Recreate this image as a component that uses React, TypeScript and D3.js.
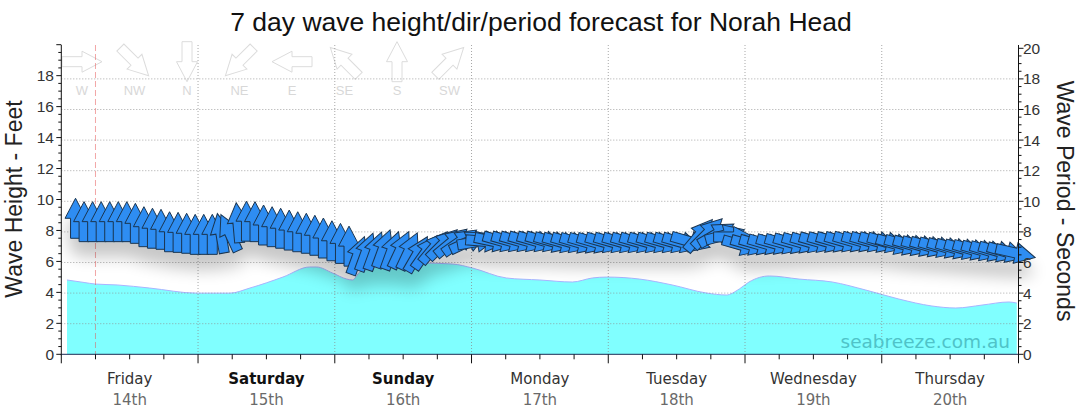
import React from "react";
import * as d3 from "d3";

const days = ["Friday", "Saturday", "Sunday", "Monday", "Tuesday", "Wednesday", "Thursday"];
const dates = ["14th", "15th", "16th", "17th", "18th", "19th", "20th"];
const boldDays = ["Saturday", "Sunday"];

const compassLabels = ["W", "NW", "N", "NE", "E", "SE", "S", "SW"];
const compassFrom = [270, 315, 0, 45, 90, 135, 180, 225];

// wave height (feet) read at given forecast hours
const heightHours = [1.0, 4.0, 5.9, 9.8, 15.5, 23.8, 29.6, 33.1, 38.9, 43.6, 44.8, 47.6, 50.1, 51.1, 52.4, 54.1, 57.1, 62.9, 68.7, 72.2, 78.1, 84.0, 89.7, 93.2, 95.7, 101.5, 107.2, 113.2, 116.7, 119.0, 120.7, 124.3, 129.5, 135.3, 141.2, 147.0, 152.8, 157.0, 161.6, 166.3, 167.7];
const heightFt = [4.80, 4.64, 4.54, 4.48, 4.28, 3.95, 3.95, 4.28, 4.99, 5.64, 5.64, 5.25, 4.86, 4.80, 5.32, 5.51, 5.77, 5.90, 5.83, 5.57, 4.93, 4.80, 4.67, 4.93, 4.99, 4.86, 4.48, 3.96, 3.83, 4.22, 4.67, 5.06, 4.86, 4.67, 4.15, 3.57, 3.12, 2.99, 3.18, 3.38, 3.31];

// swell arrows: every 1.5 h from hour 2.5
const arrowStartHour = 2.5;
const arrowStepHours = 1.5;
const periodSec = [
  8.89, 8.67, 8.67, 8.67, 8.67, 8.67, 8.67, 8.56, 8.34, 8.24,
  8.17, 8.01, 7.97, 7.91, 7.84, 7.84, 7.84, 7.91, 7.95, 8.60,
  8.70, 8.67, 8.45, 8.34, 8.24, 8.12, 8.01, 7.91, 7.78, 7.60,
  7.42, 7.25, 7.07, 6.46, 6.69, 6.75, 6.90, 6.78, 6.83, 6.75,
  6.55, 6.69, 7.01, 7.21, 7.33, 7.37, 7.37, 7.37, 7.37, 7.37,
  7.37, 7.37, 7.37, 7.37, 7.37, 7.37, 7.33, 7.30, 7.30, 7.28,
  7.28, 7.28, 7.30, 7.30, 7.30, 7.30, 7.30, 7.30, 7.30, 7.30,
  7.30, 7.30, 7.35, 7.80, 7.93, 7.86, 7.80, 7.67, 7.12, 7.14,
  7.16, 7.18, 7.20, 7.22, 7.25, 7.28, 7.30, 7.32, 7.33, 7.34,
  7.35, 7.36, 7.36, 7.35, 7.33, 7.30, 7.19, 7.15, 7.11, 7.07,
  7.03, 6.99, 6.95, 6.90, 6.86, 6.82, 6.78, 6.74, 6.71, 6.67,
  6.62,
];
const swellFromDeg = [
  180, 180, 180, 180, 180, 180, 180, 180, 180, 180,
  180, 180, 180, 180, 180, 180, 180, 170, 155, 175,
  180, 180, 180, 180, 180, 180, 180, 180, 180, 180,
  180, 180, 180, 200, 200, 200, 200, 200, 205, 205,
  210, 215, 220, 225, 230, 235, 245, 260, 275, 282,
  286, 286, 286, 286, 286, 286, 286, 286, 286, 286,
  286, 286, 286, 286, 286, 286, 286, 286, 286, 286,
  286, 286, 286, 220, 225, 240, 255, 270, 286, 286,
  286, 286, 286, 286, 286, 286, 286, 286, 286, 286,
  286, 286, 286, 286, 286, 286, 286, 286, 286, 286,
  286, 286, 286, 286, 286, 286, 286, 286, 286, 286,
  283,
];

const leftTickLabels = [0, 2, 4, 6, 8, 10, 12, 14, 16, 18];
const rightTickLabels = [0, 2, 4, 6, 8, 10, 12, 14, 16, 18, 20];

const ARROW = "M0,-20 L10.5,0 L5,0 L5,20 L-5,20 L-5,0 L-10.5,0 Z";

export default function App() {
  const W = 1080, H = 414;
  const x = d3.scaleLinear().domain([0, 168]).range([61.3, 1018.5]);
  const yFt = d3.scaleLinear().domain([0, 20]).range([354.3, 44.7]);
  const ySec = d3.scaleLinear().domain([0, 20]).range([354.3, 48.3]);
  const top = 45;
  const bottom = yFt(0);

  const areaGen = d3
    .area<number>()
    .x((_, i) => x(heightHours[i]))
    .y0(bottom)
    .y1((d) => yFt(d))
    .curve(d3.curveMonotoneX);
  const lineGen = d3
    .line<number>()
    .x((_, i) => x(heightHours[i]))
    .y((d) => yFt(d))
    .curve(d3.curveMonotoneX);

  const dayBounds = d3.range(0, 169, 24);
  const minorHours = d3.range(0, 168, 6).filter((h) => h % 24 !== 0);
  const leftMinor = d3.range(0, 20.01, 0.5);
  const rightMinor = d3.range(0, 20.01, 0.5);
  const gridSec = d3.range(2, 19, 2);

  const legendX = d3.scaleLinear().domain([0, 7]).range([82, 449.5]);

  const sans = "'Liberation Sans', Arial, sans-serif";
  const verd = "'DejaVu Sans', Verdana, sans-serif";

  return (
    <svg width={W} height={H} style={{ position: "absolute", left: 0, top: 0, background: "#fff" }}>
      <defs>
        <filter id="shadow" x="-10%" y="-60%" width="120%" height="340%">
          <feGaussianBlur in="SourceAlpha" stdDeviation="8" />
          <feOffset dy="15" result="off" />
          <feComponentTransfer>
            <feFuncA type="linear" slope="0.22" />
          </feComponentTransfer>
          <feMerge>
            <feMergeNode />
            <feMergeNode in="SourceGraphic" />
          </feMerge>
        </filter>
      </defs>

      {/* title */}
      <text x={541} y={31} textAnchor="middle" fontFamily={sans} fontSize={26.5} fill="#111">
        7 day wave height/dir/period forecast for Norah Head
      </text>

      {/* axis titles */}
      <text transform={`translate(22,199) rotate(-90)`} textAnchor="middle" fontFamily={sans} fontSize={23} fill="#222">
        Wave Height - Feet
      </text>
      <text transform={`translate(1057,201) rotate(90)`} textAnchor="middle" fontFamily={sans} fontSize={23} fill="#222">
        Wave Period - Seconds
      </text>

      {/* compass legend */}
      {compassLabels.map((lab, i) => (
        <g key={lab}>
          <path
            d={ARROW}
            transform={`translate(${legendX(i)},61.7) rotate(${compassFrom[i] + 180})`}
            fill="none"
            stroke="#dcdcdc"
            strokeWidth={1}
          />
          <text x={legendX(i)} y={94.5} textAnchor="middle" fontFamily={sans} fontSize={13} fill="#d8d8d8">
            {lab}
          </text>
        </g>
      ))}

      {/* wave height area */}
      <path d={areaGen(heightFt) || ""} fill="#80ffff" />
      <path d={lineGen(heightFt) || ""} fill="none" stroke="#a9b4ff" strokeWidth={1} />

      {/* grid */}
      <g stroke="#8a8a8a" strokeDasharray="1,2" strokeWidth={1} opacity={0.75}>
        {gridSec.map((s) => (
          <line key={"h" + s} x1={x(0)} x2={x(168)} y1={ySec(s)} y2={ySec(s)} />
        ))}
        {dayBounds.slice(1, 7).map((h) => (
          <line key={"v" + h} x1={x(h)} x2={x(h)} y1={top} y2={bottom} />
        ))}
      </g>

      {/* now line */}
      <line x1={x(6)} x2={x(6)} y1={top} y2={bottom} stroke="rgb(230,80,80)" strokeOpacity={0.5} strokeDasharray="6,3" />

      {/* watermark */}
      <text x={1010} y={348} textAnchor="end" fontFamily={verd} fontSize={18.5} fill="#4fc3c8">
        seabreeze.com.au
      </text>

      {/* swell arrows */}
      <g filter="url(#shadow)">
        {periodSec.map((p, i) => {
          const h = arrowStartHour + i * arrowStepHours;
          return (
            <path
              key={i}
              d={ARROW}
              transform={`translate(${x(h)},${ySec(p)}) rotate(${swellFromDeg[i] + 180})`}
              fill="#2d8df2"
              stroke="#1b3550"
              strokeWidth={1}
              strokeLinejoin="miter"
            />
          );
        })}
      </g>

      {/* left axis */}
      <line x1={x(0)} x2={x(0)} y1={top} y2={bottom + 1} stroke="#111" />
      {leftMinor.map((v) => (
        <line key={"lm" + v} x1={x(0) - (v % 2 === 0 ? 5 : 3)} x2={x(0)} y1={yFt(v)} y2={yFt(v)} stroke="#111" />
      ))}
      {leftTickLabels.map((v) => (
        <text key={"ll" + v} x={54} y={yFt(v)} dy="0.36em" textAnchor="end" fontFamily={sans} fontSize={15.5} fill="#333">
          {v}
        </text>
      ))}

      {/* right axis */}
      <line x1={x(168)} x2={x(168)} y1={top} y2={bottom + 1} stroke="#111" />
      {rightMinor.map((v) => (
        <line key={"rm" + v} x1={x(168)} x2={x(168) + (v % 2 === 0 ? 5 : 3)} y1={ySec(v)} y2={ySec(v)} stroke="#111" />
      ))}
      {rightTickLabels.map((v) => (
        <text key={"rl" + v} x={1023} y={ySec(v)} dy="0.36em" textAnchor="start" fontFamily={sans} fontSize={15.5} fill="#333">
          {v}
        </text>
      ))}

      {/* bottom axis */}
      <line x1={x(0)} x2={x(168)} y1={bottom} y2={bottom} stroke="#1c2c54" />
      {dayBounds.map((h) => (
        <line key={"bt" + h} x1={x(h)} x2={x(h)} y1={bottom} y2={bottom + 9} stroke="#111" />
      ))}
      {minorHours.map((h) => (
        <line key={"bm" + h} x1={x(h)} x2={x(h)} y1={bottom} y2={bottom + 5} stroke="#111" />
      ))}
      {days.map((d, i) => (
        <g key={d}>
          <text
            x={x(i * 24 + 12)}
            y={383.5}
            textAnchor="middle"
            fontFamily={verd}
            fontSize={15}
            fontWeight={boldDays.includes(d) ? "bold" : "normal"}
            fill={boldDays.includes(d) ? "#111" : "#333"}
          >
            {d}
          </text>
          <text x={x(i * 24 + 12)} y={405} textAnchor="middle" fontFamily={verd} fontSize={15} fill="#6a6a6a">
            {dates[i]}
          </text>
        </g>
      ))}
    </svg>
  );
}
